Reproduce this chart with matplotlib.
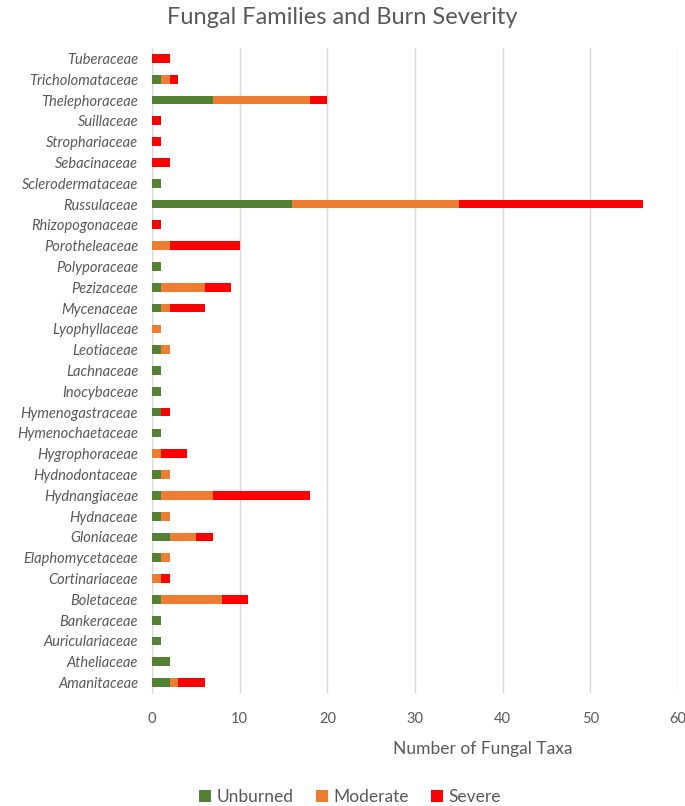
import matplotlib
matplotlib.use("Agg")
from matplotlib import pyplot as plt
import numpy as np

families = ["Amanitaceae", "Atheliaceae", "Auriculariaceae", "Bankeraceae", "Boletaceae",
            "Cortinariaceae", "Elaphomycetaceae", "Gloniaceae", "Hydnaceae", "Hydnangiaceae",
            "Hydnodontaceae", "Hygrophoraceae", "Hymenochaetaceae", "Hymenogastraceae",
            "Inocybaceae", "Lachnaceae", "Leotiaceae", "Lyophyllaceae", "Mycenaceae",
            "Pezizaceae", "Polyporaceae", "Porotheleaceae", "Rhizopogonaceae", "Russulaceae",
            "Sclerodermataceae", "Sebacinaceae", "Strophariaceae", "Suillaceae",
            "Thelephoraceae", "Tricholomataceae", "Tuberaceae"]
unburned = [2, 2, 1, 1, 1, 0, 1, 2, 1, 1, 1, 0, 1, 1, 1, 1, 1, 0, 1, 1, 1, 0, 0, 16, 1, 0, 0, 0, 7, 1, 0]
moderate = [1, 0, 0, 0, 7, 1, 1, 3, 1, 6, 1, 1, 0, 0, 0, 0, 1, 1, 1, 5, 0, 2, 0, 19, 0, 0, 0, 0, 11, 1, 0]
severe = [3, 0, 0, 0, 3, 1, 0, 2, 0, 11, 0, 3, 0, 1, 0, 0, 0, 0, 4, 3, 0, 8, 1, 21, 0, 2, 1, 1, 2, 1, 2]
series_names = ["Unburned", "Moderate", "Severe"]

plt.rcParams['font.family'] = ['Lato', 'DejaVu Sans']
grey = "#595959"

fig = plt.figure(figsize=(6.85, 8.06), dpi=100)
ax = fig.add_axes([152 / 685, 1 - 693 / 806, 526 / 685, 645 / 806])

y = np.arange(len(families))
u = np.array(unburned)
m = np.array(moderate)
s = np.array(severe)
h = 0.42
ax.barh(y, u, height=h, color="#548235", label=series_names[0], zorder=3)
ax.barh(y, m, left=u, height=h, color="#ED7D31", label=series_names[1], zorder=3)
ax.barh(y, s, left=u + m, height=h, color="#FF0000", label=series_names[2], zorder=3)

ax.set_xlim(0, 60)
ax.set_ylim(-0.5, len(families) - 0.5)
ax.set_xticks(range(0, 61, 10))
ax.set_yticks(y)
ax.set_yticklabels(families, fontstyle="italic")
ax.tick_params(axis="both", length=0, colors=grey, labelsize=10.5)
ax.tick_params(axis="x", pad=14)
ax.tick_params(axis="y", pad=10)
ax.grid(axis="x", color="#d9d9d9", linewidth=1, zorder=0)
for sp in ["top", "right", "bottom"]:
    ax.spines[sp].set_visible(False)
ax.spines["left"].set_color("#d9d9d9")

fig.text(0.5, 1 - 17 / 806, "Fungal Families and Burn Severity", ha="center", va="center",
         fontsize=17, color=grey)
fig.text(483 / 685, 1 - 749 / 806, "Number of Fungal Taxa", ha="center", va="center",
         fontsize=12.5, color=grey)
fig.legend(loc="center", bbox_to_anchor=(350 / 685, 1 - 797 / 806), ncol=3, frameon=False,
           fontsize=12.5, labelcolor=grey, handlelength=0.7, handleheight=0.7,
           handletextpad=0.3, columnspacing=1.3)

plt.savefig("out.png", dpi=100)
